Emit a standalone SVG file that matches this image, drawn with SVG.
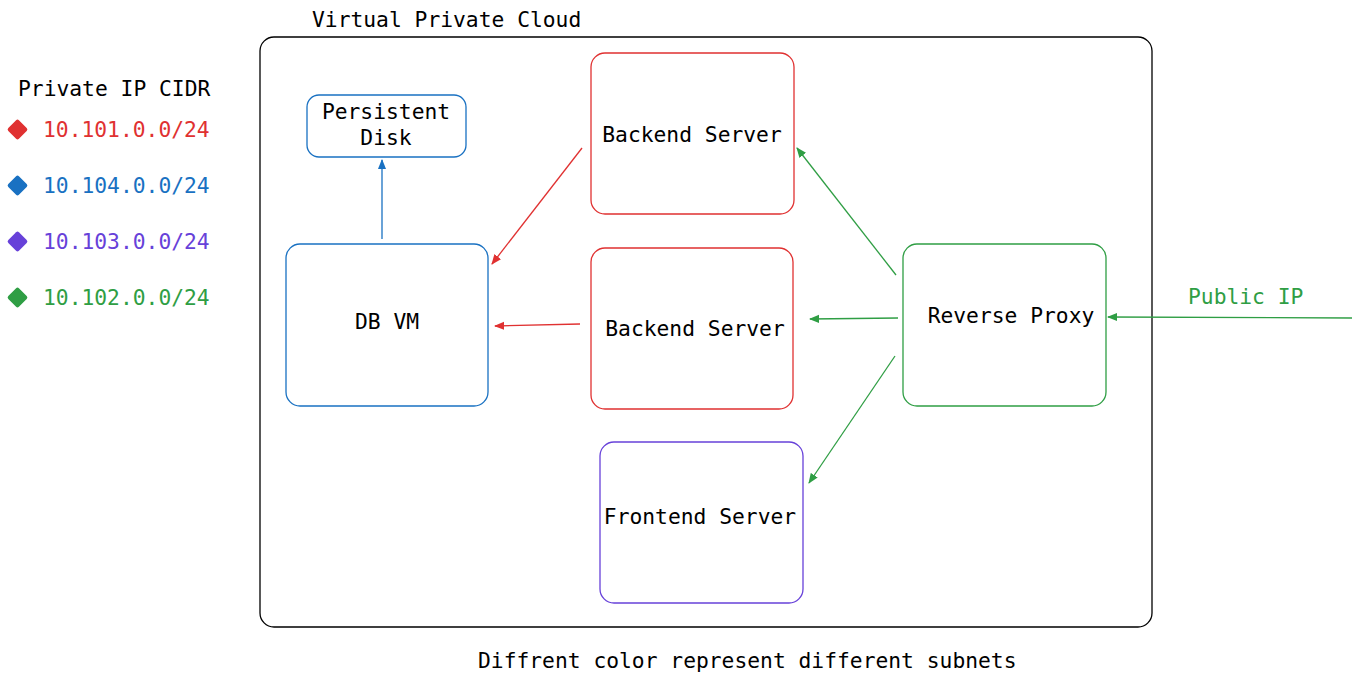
<svg xmlns="http://www.w3.org/2000/svg" width="1358" height="680" viewBox="0 0 1358 680">
<defs>
<style>
text{font-family:"DejaVu Sans Mono","Liberation Mono",monospace;font-size:21.3px}
.box{fill:#fff;stroke-width:1.3}
.c{text-anchor:middle}
</style>
<marker id="ar" viewBox="0 0 10 10" refX="9" refY="5" markerWidth="8" markerHeight="8" orient="auto"><path d="M0,1 L10,5 L0,9 z" fill="#e03131"/></marker>
<marker id="ab" viewBox="0 0 10 10" refX="9" refY="5" markerWidth="8" markerHeight="8" orient="auto"><path d="M0,1 L10,5 L0,9 z" fill="#1971c2"/></marker>
<marker id="ag" viewBox="0 0 10 10" refX="9" refY="5" markerWidth="8" markerHeight="8" orient="auto"><path d="M0,1 L10,5 L0,9 z" fill="#2f9e44"/></marker>
</defs>
<rect width="1358" height="680" fill="#fff"/>
<g id="legend">
<text x="18" y="96">Private IP CIDR</text>
<rect x="10" y="122" width="15" height="15" rx="2" fill="#e03131" transform="rotate(45 17.5 129.5)"/>
<text x="43" y="137" fill="#e03131">10.101.0.0/24</text>
<rect x="10" y="178" width="15" height="15" rx="2" fill="#1971c2" transform="rotate(45 17.5 185.5)"/>
<text x="43" y="193" fill="#1971c2">10.104.0.0/24</text>
<rect x="10" y="234" width="15" height="15" rx="2" fill="#6741d9" transform="rotate(45 17.5 241.5)"/>
<text x="43" y="249" fill="#6741d9">10.103.0.0/24</text>
<rect x="10" y="290" width="15" height="15" rx="2" fill="#2f9e44" transform="rotate(45 17.5 297.5)"/>
<text x="43" y="305" fill="#2f9e44">10.102.0.0/24</text>
</g>
<g id="vpc">
<rect x="260" y="37" width="892" height="590" rx="14" fill="none" stroke="#000" stroke-width="1.3"/>
<text x="312" y="27">Virtual Private Cloud</text>
</g>
<g id="disk"><rect class="box" x="307" y="95" width="159" height="62" rx="12" stroke="#1971c2"/>
<text class="c" x="386" y="119">Persistent</text><text class="c" x="386" y="145">Disk</text></g>
<g id="dbvm"><rect class="box" x="286" y="244" width="202" height="162" rx="14" stroke="#1971c2"/>
<text class="c" x="387" y="329">DB VM</text></g>
<g id="backend1"><rect class="box" x="591" y="53" width="203" height="161" rx="14" stroke="#e03131"/>
<text class="c" x="692" y="142">Backend Server</text></g>
<g id="backend2"><rect class="box" x="591" y="248" width="202" height="161" rx="14" stroke="#e03131"/>
<text class="c" x="695" y="336">Backend Server</text></g>
<g id="frontend"><rect class="box" x="600" y="442" width="203" height="161" rx="14" stroke="#6741d9"/>
<text class="c" x="700" y="524">Frontend Server</text></g>
<g id="proxy"><rect class="box" x="903" y="244" width="203" height="162" rx="14" stroke="#2f9e44"/>
<text class="c" x="1011" y="323">Reverse Proxy</text></g>
<g id="connectors" fill="none" stroke-width="1.3">
<path d="M382 239 L382 160" stroke="#1971c2" marker-end="url(#ab)"/>
<path d="M582 148 L492 264" stroke="#e03131" marker-end="url(#ar)"/>
<path d="M580 324 L495 326" stroke="#e03131" marker-end="url(#ar)"/>
<path d="M896 275 L797 148" stroke="#2f9e44" marker-end="url(#ag)"/>
<path d="M898 318 L810 319" stroke="#2f9e44" marker-end="url(#ag)"/>
<path d="M895 356 L809 483" stroke="#2f9e44" marker-end="url(#ag)"/>
<path d="M1352 318 L1108 317" stroke="#2f9e44" marker-end="url(#ag)"/>
</g>
<text x="1188" y="304" fill="#2f9e44">Public IP</text>
<text x="478" y="668">Diffrent color represent different subnets</text>
</svg>
